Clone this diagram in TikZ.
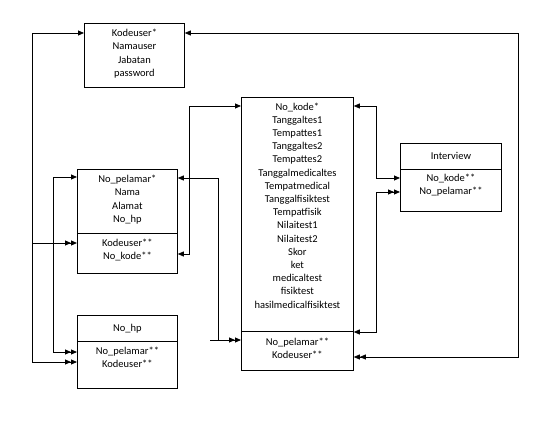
\documentclass[tikz,border=0pt]{standalone}
\usepackage{fontspec}
\setmainfont{Carlito}
\usetikzlibrary{arrows.meta, positioning}

\tikzset{
    tbl/.style={draw, line width=0.8pt, inner sep=0pt, anchor=north west},
    fields/.style={inner sep=0pt, align=center, anchor=north, font=\fontsize{10.5}{13.2}\selectfont},
    title/.style={inner sep=0pt, align=center, font=\fontsize{10.5}{13.2}\selectfont},
    rel/.style={line width=0.8pt},
    one/.tip={Triangle[length=6pt,width=5pt]},
    two/.tip={Triangle[length=6pt,width=5pt] Triangle[length=6pt,width=5pt]}
}

\begin{document}
\begin{tikzpicture}[x=1pt, y=-1pt]

    \useasboundingbox (0,0) rectangle (543,430);

    % Tabel user
    \node[tbl, minimum width=100, minimum height=64] (user) at (84,23) {};
    \node[fields] (userF) at ([yshift=-6pt]user.north) {Kodeuser*\\Namauser\\Jabatan\\password};

    % Tabel pelamar
    \node[tbl, minimum width=100, minimum height=64] (pelamarA) at (77,169) {};
    \node[tbl, minimum width=100, minimum height=40] (pelamarB) at (77,233) {};
    \node[fields] (pelamarF) at ([yshift=-6pt]pelamarA.north) {No\_pelamar*\\Nama\\Alamat\\No\_hp};
    \node[fields] (pelamarK) at ([yshift=-6pt]pelamarB.north) {Kodeuser**\\No\_kode**};

    % Tabel no hp
    \node[tbl, minimum width=100, minimum height=26] (hpA) at (77,315) {};
    \node[tbl, minimum width=100, minimum height=47] (hpB) at (77,341) {};
    \node[title] (hpT) at (hpA.center) {No\_hp};
    \node[fields] (hpK) at ([yshift=-6pt]hpB.north) {No\_pelamar**\\Kodeuser**};

    % Tabel test
    \node[tbl, minimum width=112, minimum height=234] (testA) at (241,97) {};
    \node[tbl, minimum width=112, minimum height=39] (testB) at (241,331) {};
    \node[fields] (testF) at ([yshift=-5.5pt]testA.north) {No\_kode*\\Tanggaltes1\\Tempattes1\\Tanggaltes2\\Tempattes2\\Tanggalmedicaltes\\Tempatmedical\\Tanggalfisiktest\\Tempatfisik\\Nilaitest1\\Nilaitest2\\Skor\\ket\\medicaltest\\fisiktest\\hasilmedicalfisiktest};
    \node[fields] (testK) at ([yshift=-7pt]testB.north) {No\_pelamar**\\Kodeuser**};

    % Tabel interview
    \node[tbl, minimum width=101, minimum height=26] (interA) at (400,143) {};
    \node[tbl, minimum width=101, minimum height=42] (interB) at (400,169) {};
    \node[title] (interT) at (interA.center) {Interview};
    \node[fields] (interK) at ([yshift=-5pt]interB.north) {No\_kode**\\No\_pelamar**};

    % Relasi kodeuser (kiri)
    \coordinate (aTop) at (32,33);
    \coordinate (aMid) at (32,243);
    \coordinate (aBot) at (32,362);
    \draw[rel, one-two] (user.west |- aTop) -- (aTop) -- (aBot) -- (hpB.west |- aBot);
    \draw[rel, -two] (aMid) -- (pelamarB.west |- aMid);

    % Relasi no_pelamar ke no_hp
    \coordinate (bTop) at (53,177);
    \coordinate (bBot) at (53,352);
    \draw[rel, one-two] (pelamarA.west |- bTop) -- (bTop) -- (bBot) -- (hpB.west |- bBot);

    % Relasi no_kode ke pelamar
    \coordinate (cTop) at (189,106);
    \coordinate (cBot) at (189,254);
    \draw[rel, one-one] (testA.west |- cTop) -- (cTop) -- (cBot) -- (pelamarB.east |- cBot);

    % Relasi no_pelamar ke test
    \coordinate (dTop) at (218,178);
    \coordinate (dBot) at (218,340);
    \coordinate (dStart) at (210,340);
    \draw[rel, -one] (dBot) -- (dTop) -- (pelamarA.east |- dTop);
    \draw[rel, -two] (dStart) -- (testB.west |- dStart);

    % Relasi test ke interview
    \coordinate (eTop) at (376,106);
    \coordinate (eBot) at (376,178);
    \draw[rel, one-one] (testA.east |- eTop) -- (eTop) -- (eBot) -- (interB.west |- eBot);

    \coordinate (fTop) at (376,192);
    \coordinate (fBot) at (376,332);
    \draw[rel, one-two] (testB.east |- fBot) -- (fBot) -- (fTop) -- (interB.west |- fTop);

    % Relasi kodeuser (kanan)
    \coordinate (gTop) at (518,33);
    \coordinate (gBot) at (518,357);
    \draw[rel, one-two] (user.east |- gTop) -- (gTop) -- (gBot) -- (testB.east |- gBot);

\end{tikzpicture}
\end{document}
